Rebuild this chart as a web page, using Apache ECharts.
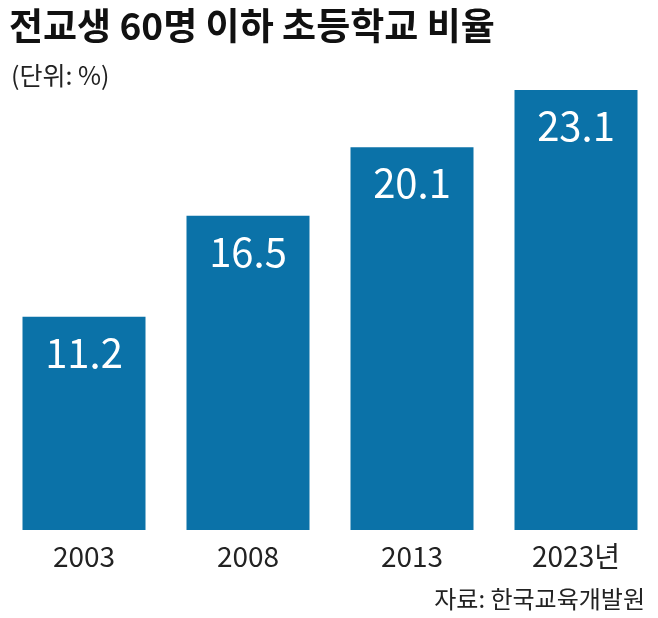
<!DOCTYPE html>
<html><head><meta charset="utf-8">
<script src="https://cdn.jsdelivr.net/npm/echarts@6/dist/echarts.min.js"></script>
<style>html,body{margin:0;padding:0;background:#fff}#c{width:658px;height:618px}</style>
</head><body><div id="c"></div>
<script>
// 데이터
var years = ['2003', '2008', '2013', '2023년'];
var ratios = [11.2, 16.5, 20.1, 23.1];

var chart = echarts.init(document.getElementById('c'));
var font = '"Noto Sans CJK KR", "Noto Sans", sans-serif';
chart.setOption({
    animation: false,
    title: [
        {text: '전교생 60명 이하 초등학교 비율', left: 4, top: 2,
            textStyle: {fontFamily: font, fontSize: 37, fontWeight: 'bold', color: '#111'}},
        {text: '(단위: %)', left: 6, top: 58,
            textStyle: {fontFamily: font, fontSize: 25, fontWeight: 'normal', color: '#222'}},
        {text: '자료: 한국교육개발원', right: 8, top: 582,
            textStyle: {fontFamily: font, fontSize: 24, fontWeight: 'normal', color: '#222'}}
    ],
    grid: {left: 2, right: 0, top: 90, bottom: 88},
    xAxis: {
        type: 'category', data: years,
        axisLine: {show: false}, axisTick: {show: false},
        axisLabel: {fontFamily: font, fontSize: 28, color: '#222', margin: 12}
    },
    yAxis: {type: 'value', min: 0, max: 23.1, show: false, splitLine: {show: false}},
    series: [{
        type: 'bar', data: ratios, barCategoryGap: '25%',
        itemStyle: {color: '#0b72a8'},
        label: {show: true, position: 'insideTop', distance: 16, color: '#fff',
            fontFamily: font, fontSize: 40}
    }]
});
</script></body></html>
